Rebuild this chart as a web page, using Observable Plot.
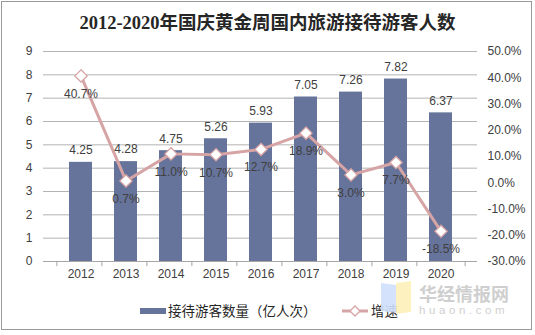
<!DOCTYPE html>
<html><head><meta charset="utf-8">
<script src="https://cdn.jsdelivr.net/npm/d3@7"></script>
<script src="https://cdn.jsdelivr.net/npm/@observablehq/plot@0.6"></script>
<style>
body{margin:0;background:#fff;}
#wrap{position:relative;width:535px;height:335px;overflow:hidden;font-family:"Liberation Sans",Arial,sans-serif;}
#frame{position:absolute;left:1px;top:1px;width:531px;height:329px;border:1px solid #9a9a9a;box-sizing:border-box;}
#title{position:absolute;left:0;top:12px;width:535px;text-align:center;font-family:"Liberation Serif","Noto Sans CJK SC",serif;font-weight:bold;font-size:18.5px;line-height:1.2;color:#262626;}
#chart{position:absolute;left:0;top:0;}
.leg{position:absolute;font-family:"Noto Sans CJK SC",sans-serif;font-size:13.5px;line-height:1;color:#262626;top:304px;}
.wm{position:absolute;color:#cfcfcf;line-height:1;}
</style></head>
<body><div id="wrap">
<div id="frame"></div>
<div id="chart"></div>
<div id="title">2012-2020年国庆黄金周国内旅游接待游客人数</div>
<div id="legend"></div>
<div id="wm"></div>
</div>
<script>
const years = ["2012","2013","2014","2015","2016","2017","2018","2019","2020"];
const visitors = [4.25,4.28,4.75,5.26,5.93,7.05,7.26,7.82,6.37];
const growth = [40.7,0.7,11.0,10.7,12.7,18.9,3.0,7.7,-18.5];
const leftTicks = [0,1,2,3,4,5,6,7,8,9];
const rightTicks = [-30,-20,-10,0,10,20,30,40,50];
const seriesNames = ["接待游客数量（亿人次）","增速"];

const barColor = "#66739b", lineColor = "#d6a4a4", textColor = "#404040";
const yMax = 9, gMin = -30, gMax = 50;
const g2y = g => (g - gMin) / (gMax - gMin) * yMax;
const y2g = y => y / yMax * (gMax - gMin) + gMin;

const data = years.map((y,i)=>({year:y, v:visitors[i], g:growth[i], gy:g2y(growth[i])}));

const W = 535, H = 290, mL = 43, mR = 58, mT = 51, mB = 29;
const step = (W - mL - mR) / years.length;

const plot = Plot.plot({
  width: W, height: H,
  marginLeft: mL, marginRight: mR, marginTop: mT, marginBottom: mB,
  style: {fontFamily: "'Liberation Sans', Arial, sans-serif", fontSize: "12px", color: textColor, background: "transparent"},
  x: {domain: years, padding: 0.5, align: 0.5},
  y: {domain: [0, yMax]},
  marks: [
    Plot.gridY(leftTicks.filter(t=>t>0), {stroke: "#b3b3b3", strokeOpacity: 1}),
    Plot.barY(data, {x: "year", y: "v", fill: barColor}),
    Plot.ruleY([0], {stroke: "#a6a6a6"}),
    Plot.ruleX(data, {x: "year", y1: 0, y2: -0.22, dx: -step/2, stroke: "#a6a6a6"}),
    Plot.ruleX(data.slice(-1), {x: "year", y1: 0, y2: -0.22, dx: step/2, stroke: "#a6a6a6"}),
    Plot.axisY({anchor: "left", ticks: leftTicks, tickSize: 0, tickPadding: 11, label: null, fill: textColor}),
    Plot.axisY({anchor: "right", ticks: rightTicks.map(g2y), tickSize: 0, tickPadding: 10, label: null,
      tickFormat: t => y2g(t).toFixed(1) + "%", fill: textColor}),
    Plot.axisX({tickSize: 0, tickPadding: 8, label: null, fill: textColor}),
    Plot.line(data, {x: "year", y: "gy", stroke: lineColor, strokeWidth: 3}),
    Plot.dot(data, {x: "year", y: "gy", symbol: "diamond2", r: 5.5, fill: "white", stroke: lineColor, strokeWidth: 1.3}),
    Plot.text(data, {x: "year", y: "v", text: d => d.v.toFixed(2), dy: -12, fill: textColor, fontSize: 12}),
    Plot.text(data, {x: "year", y: "gy", text: d => d.g.toFixed(1) + "%", dy: 18, fill: textColor, fontSize: 12})
  ]
});
document.getElementById("chart").appendChild(plot);

// legend
const leg = document.getElementById("legend");
leg.innerHTML = `
<div style="position:absolute;left:140px;top:308px;width:26px;height:6px;background:${barColor}"></div>
<div class="leg" style="left:168px">${seriesNames[0]}</div>
<svg style="position:absolute;left:341px;top:304px" width="28" height="14">
 <line x1="1" y1="7" x2="27" y2="7" stroke="${lineColor}" stroke-width="3"/>
 <path d="M14 2 L19 7 L14 12 L9 7 Z" fill="white" stroke="${lineColor}" stroke-width="1.3"/>
</svg>
<div class="leg" style="left:371px">${seriesNames[1]}</div>`;

// watermark
document.getElementById("wm").innerHTML = `
<div style="position:absolute;left:381px;top:284px;width:15px;height:28px;background:#cfe0fb;transform:skewY(8deg);opacity:.9"></div>
<div style="position:absolute;left:396px;top:282px;width:15px;height:31px;background:#fdf1b8;transform:skewY(-8deg);opacity:.9"></div>
<div class="wm" style="left:419px;top:284px;font-family:'Noto Sans CJK SC',sans-serif;font-weight:bold;font-size:18px;">华经情报网</div>
<div class="wm" style="left:419px;top:305px;font-family:'Liberation Sans',sans-serif;font-size:11.5px;letter-spacing:3.6px">huaon.com</div>`;
</script>
</body></html>
